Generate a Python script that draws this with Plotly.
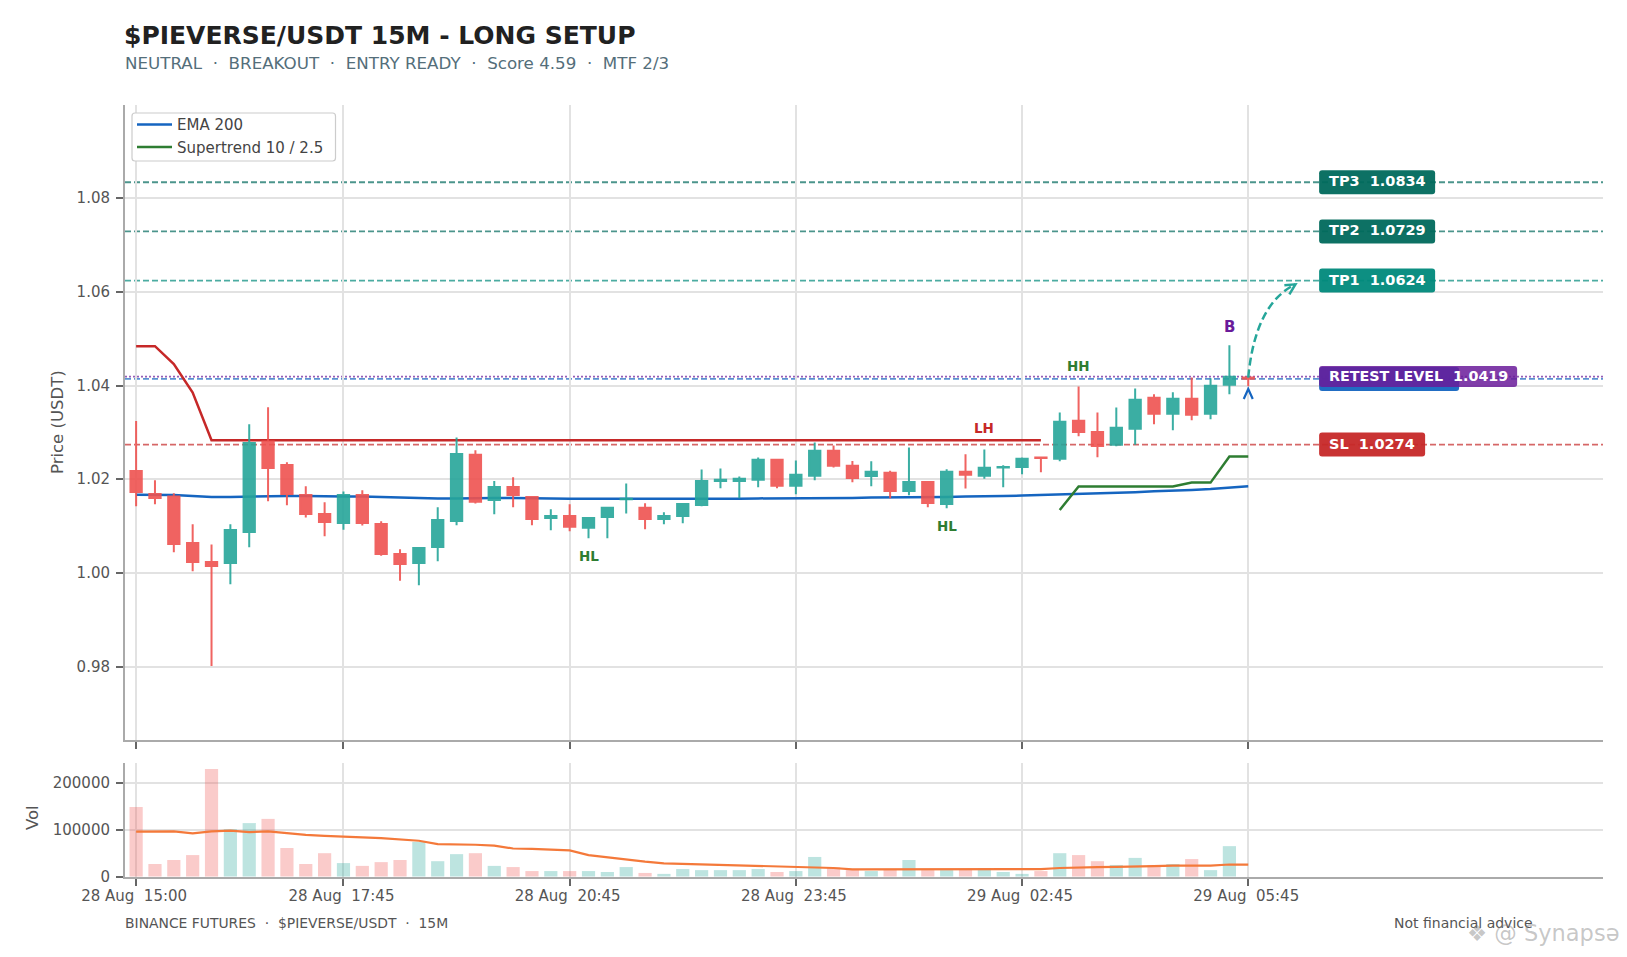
#!/usr/bin/env python

import plotly.graph_objects as go

W, H = 1627, 957
FONT = "DejaVu Sans"

# candles
opens = [1.02177, 1.01685, 1.01628, 1.00638, 1.00232, 1.00211, 1.00873, 1.02803, 1.02305, 1.01664,
         1.01258, 1.01066, 1.01664, 1.01044, 1.00403, 1.00211, 1.00553, 1.01108, 1.02522, 1.01558,
         1.01836, 1.01622, 1.01174, 1.01216, 1.00961, 1.01195, 1.0157, 1.01388, 1.01152, 1.01216,
         1.01451, 1.01964, 1.01964, 1.01986, 1.02414, 1.01858, 1.02071, 1.02605, 1.02285, 1.0207,
         1.02135, 1.0175, 1.01942, 1.01473, 1.02157, 1.02072, 1.02251, 1.02263, 1.02463, 1.02434,
         1.03246, 1.0301, 1.02733, 1.03075, 1.03737, 1.03396, 1.03716, 1.03396, 1.04015, 1.04172]
highs = [1.03245, 1.01977, 1.0170, 1.01037, 1.00603, 1.01037, 1.03174, 1.03537, 1.02362, 1.01849,
         1.01507, 1.01735, 1.01764, 1.01101, 1.00503, 1.00546, 1.014, 1.02889, 1.02619, 1.01964,
         1.02042, 1.01643, 1.01359, 1.01465, 1.01195, 1.01409, 1.0191, 1.01487, 1.01294, 1.01487,
         1.02208, 1.02229, 1.02057, 1.02464, 1.02428, 1.024, 1.02784, 1.02718, 1.02391, 1.02384,
         1.02178, 1.02676, 1.01964, 1.02214, 1.02534, 1.02634, 1.02299, 1.02463, 1.02463, 1.03424,
         1.03979, 1.03424, 1.03531, 1.03936, 1.03815, 1.03857, 1.04172, 1.04157, 1.04861, 1.04172]
lows = [1.01422, 1.01464, 1.00439, 1.00033, 0.9801, 0.99755, 1.00546, 1.01528, 1.01443, 1.0118,
        1.00781, 1.00923, 1.01009, 1.00368, 0.99833, 0.99734, 1.00246, 1.01016, 1.01482, 1.01252,
        1.014, 1.01017, 1.00909, 1.00889, 1.0074, 1.0074, 1.0127, 1.00932, 1.01038, 1.01059,
        1.01423, 1.01806, 1.01593, 1.01829, 1.01806, 1.01679, 1.01979, 1.02249, 1.01936, 1.0185,
        1.01593, 1.01658, 1.014, 1.01381, 1.018, 1.02007, 1.01829, 1.02107, 1.02149, 1.02384,
        1.02918, 1.0247, 1.02704, 1.02733, 1.03175, 1.03047, 1.0326, 1.03281, 1.03816, 1.03985]
closes = [1.01728, 1.0160, 1.00617, 1.00232, 1.00147, 1.00916, 1.02775, 1.02241, 1.01685, 1.01258,
          1.01087, 1.01664, 1.01066, 1.00403, 1.00189, 1.00531, 1.0113, 1.0254, 1.01518, 1.01836,
          1.01665, 1.01152, 1.01216, 1.00983, 1.01174, 1.01388, 1.0158, 1.01152, 1.01216, 1.01472,
          1.01964, 1.01986, 1.02007, 1.02414, 1.01858, 1.02093, 1.02606, 1.02285, 1.02028, 1.02157,
          1.0175, 1.01942, 1.01494, 1.02157, 1.02093, 1.02243, 1.02263, 1.02434, 1.0245, 1.03224,
          1.0301, 1.02711, 1.03096, 1.03695, 1.03396, 1.03716, 1.03374, 1.03994, 1.04186, 1.04143]
ema200 = [1.0167, 1.0167, 1.0166, 1.0164, 1.0162, 1.0162, 1.0163, 1.0163, 1.0164, 1.0164,
          1.0163, 1.0163, 1.0163, 1.0162, 1.016, 1.0159, 1.0159, 1.0159, 1.016, 1.016,
          1.016, 1.016, 1.0159, 1.0158, 1.0158, 1.0158, 1.0158, 1.0157, 1.0157, 1.0157,
          1.0158, 1.0158, 1.0158, 1.0159, 1.0159, 1.016, 1.016, 1.016, 1.016, 1.0161,
          1.0161, 1.0162, 1.0162, 1.0162, 1.0163, 1.0163, 1.0164, 1.0165, 1.0166, 1.0167,
          1.0169, 1.017, 1.0171, 1.0172, 1.0174, 1.0175, 1.0177, 1.0179, 1.0182, 1.0185]
st_down_x = [0, 1, 2, 3, 4, 48]
st_down = [1.0484, 1.0484, 1.04456, 1.0385, 1.02832, 1.02832]
st_up_x = [49, 50, 55, 56, 57, 58, 59]
st_up = [1.01343, 1.01842, 1.01842, 1.01927, 1.01927, 1.02482, 1.02482]

volumes = [148000, 27000, 35500, 46000, 229000, 101000, 114000, 123000, 61000, 27000,
           50000, 29000, 23000, 31000, 35500, 74000, 33000, 48000, 50000, 23000,
           20500, 12000, 12000, 12000, 12000, 10000, 20500, 8000, 6000, 16300,
           14000, 14000, 14000, 16300, 10000, 12000, 42000, 20000, 15500, 12000,
           15500, 35500, 14000, 14000, 15500, 18500, 10000, 6000, 12000, 50000,
           46000, 33000, 25000, 40000, 25000, 27000, 37500, 14000, 65000, 0]
vol_ma = [95700, 95700, 96500, 92000, 96500, 97800, 95000, 96500, 92000, 89000,
          87000, 86000, 83500, 82000, 80000, 76500, 69500, 69000, 68000, 66000,
          60000, 59000, 58000, 56000, 46000, 41000, 37000, 32000, 28500, 27500,
          25500, 25000, 24000, 23500, 22500, 20000, 20000, 18500, 15500, 15500,
          15500, 17000, 17000, 17000, 17000, 16300, 16300, 16300, 16300, 18500,
          20000, 20500, 21000, 22500, 22500, 23500, 23500, 23500, 26000, 25500]

tick_idx = [0, 11, 23, 35, 47, 59]
tick_text = ["28 Aug\u00a0\u00a015:00", "28 Aug\u00a0\u00a017:45", "28 Aug\u00a0\u00a020:45",
             "28 Aug\u00a0\u00a023:45", "29 Aug\u00a0\u00a002:45", "29 Aug\u00a0\u00a005:45"]

level_names = ["TP3", "TP2", "TP1", "ENTRY", "RETEST LEVEL", "SL"]
level_values = [1.0834, 1.0729, 1.0624, 1.0414, 1.0419, 1.0274]
level_colors = ["#00695c", "#00695c", "#00897b", "#1565c0", "#6a1b9a", "#c62828"]

swing_names = ["HL", "HL", "LH", "HH", "B"]
swing_x = [24, 43, 45, 50, 58]
swing_y = [1.0036, 1.0100, 1.0310, 1.0442, 1.0524]
swing_colors = ["#2e7d32", "#2e7d32", "#c62828", "#2e7d32", "#6a1b9a"]

x = list(range(len(opens)))
UP, DOWN = "#26a69a", "#ef5350"


def px(v):
    return v / W


def py(v):
    return 1 - v / H


def round_box(w, h, r=3):
    t, b = h / 2, -h / 2
    return (f"M {r},{b} L {w - r},{b} Q {w},{b} {w},{b + r} L {w},{t - r} Q {w},{t} {w - r},{t} "
            f"L {r},{t} Q 0,{t} 0,{t - r} L 0,{b + r} Q 0,{b} {r},{b} Z")


def page_note(text, xp, yp, size, color="#555555", xanchor="left", angle=0):
    fig.add_annotation(xref="paper", yref="paper", x=px(xp), y=py(yp), xanchor=xanchor, yanchor="middle",
                       showarrow=False, text=text, textangle=angle,
                       font=dict(family=FONT, size=size, color=color))


bar_colors = [UP if c >= o else DOWN for o, c in zip(opens, closes)]

fig = go.Figure()
fig.add_trace(go.Scatter(x=x, y=ema200, mode="lines", name="EMA 200",
                         line=dict(color="#1565c0", width=2.5)))
fig.add_trace(go.Scatter(x=st_down_x, y=st_down, mode="lines", showlegend=False,
                         line=dict(color="#c62828", width=2.5)))
fig.add_trace(go.Scatter(x=st_up_x, y=st_up, mode="lines", name="Supertrend 10 / 2.5",
                         line=dict(color="#2e7d32", width=2.5)))
fig.add_trace(go.Candlestick(x=x, open=opens, high=highs, low=lows, close=closes,
                             xaxis="x3", yaxis="y3", showlegend=False, whiskerwidth=0, opacity=0.9,
                             increasing=dict(line=dict(color=UP, width=2), fillcolor=UP),
                             decreasing=dict(line=dict(color=DOWN, width=2), fillcolor=DOWN)))
fig.add_trace(go.Bar(x=x, y=volumes, marker=dict(color=bar_colors, line_width=0), opacity=0.3,
                     width=0.7, xaxis="x2", yaxis="y2", showlegend=False))
fig.add_trace(go.Scatter(x=x, y=vol_ma, mode="lines", xaxis="x2", yaxis="y2", showlegend=False,
                         line=dict(color="#f4793a", width=2.2)))

# level lines and their tags
tag_x = 62.76
tag_sizes = {"TP3": (116, 24), "TP2": (116, 24), "TP1": (116, 24), "ENTRY": (140, 24),
             "RETEST LEVEL": (198, 21), "SL": (106, 24)}
for name, val, col in zip(level_names, level_values, level_colors):
    dash = "2px,2px" if name == "RETEST LEVEL" else "6px,3px"
    fig.add_shape(type="line", xref="x domain", yref="y", x0=0, x1=1, y0=val, y1=val, layer="below",
                  opacity=0.7, line=dict(color=col, width=1.8, dash=dash))
    w, h = tag_sizes[name]
    fig.add_shape(type="path", xref="x", yref="y", xsizemode="pixel", ysizemode="pixel",
                  xanchor=tag_x, yanchor=val, path=round_box(w, h), fillcolor=col,
                  opacity=0.85 if name == "RETEST LEVEL" else 0.95, line_width=0, layer="above")
    if name != "ENTRY":
        fig.add_annotation(x=tag_x, y=val, xanchor="left", yanchor="middle", xshift=8, yshift=1,
                           text=f"<b>{name}\u00a0\u00a0{val:.4f}</b>", showarrow=False,
                           font=dict(family=FONT, size=14.3 if name == "RETEST LEVEL" else 14.5,
                                     color="white"))

# breakout path, arrow head and entry caret
fig.add_shape(type="path", xref="x", yref="y", layer="above",
              path="M 59,1.0417 Q 59.36,1.0574 61.5,1.0616",
              line=dict(color=UP, width=2.5, dash="8px,4px"))
fig.add_shape(type="path", xref="x", yref="y", xsizemode="pixel", ysizemode="pixel", layer="above",
              xanchor=61.5, yanchor=1.0616, path="M -11,-1 L 0,0 L -6,-10",
              line=dict(color=UP, width=2.5))
fig.add_shape(type="path", xref="x", yref="y", xsizemode="pixel", ysizemode="pixel", layer="above",
              xanchor=59, yanchor=1.0382, path="M -4.5,-5 L 0,5 L 4.5,-5",
              line=dict(color="#1565c0", width=2.2))

for name, sx, sy, col in zip(swing_names, swing_x, swing_y, swing_colors):
    fig.add_annotation(x=sx, y=sy, text=f"<b>{name}</b>", showarrow=False,
                       font=dict(family=FONT, size=15 if name == "B" else 13.5, color=col))

page_note("NEUTRAL\u00a0\u00a0·\u00a0\u00a0BREAKOUT\u00a0\u00a0·\u00a0\u00a0ENTRY READY\u00a0\u00a0·"
          "\u00a0\u00a0Score 4.59\u00a0\u00a0·\u00a0\u00a0MTF 2/3", 122.5, 62.5, 16.7, "#546e7a")
page_note("Price (USDT)", 57, 422, 16.5, xanchor="center", angle=-90)
page_note("Vol", 32, 817, 16.5, xanchor="center", angle=-90)
page_note("BINANCE FUTURES\u00a0\u00a0·\u00a0\u00a0$PIEVERSE/USDT\u00a0\u00a0·\u00a0\u00a015M", 122.5, 923, 13.9)
page_note("Not financial advice", 1535, 923, 14, xanchor="right")
page_note("❖ @ Synapsə", 1621, 933, 22.5, "rgba(130,130,130,0.45)", xanchor="right")

# rounded legend frame, the legend itself sits on top of it
l, r, t, b, c = px(132), px(335.5), py(113), py(161), 3
cx, cy = c / W, c / H
fig.add_shape(type="path", xref="paper", yref="paper", layer="above", fillcolor="white",
              line=dict(color="#cccccc", width=1.2),
              path=f"M {l + cx},{b} L {r - cx},{b} Q {r},{b} {r},{b + cy} L {r},{t - cy} Q {r},{t} {r - cx},{t} "
                   f"L {l + cx},{t} Q {l},{t} {l},{t - cy} L {l},{b + cy} Q {l},{b} {l + cx},{b} Z")

axis_style = dict(showgrid=True, gridcolor="#e2e2e2", gridwidth=1.6, showline=True, linecolor="#aaaaaa",
                  linewidth=2, ticks="outside", ticklen=7, tickwidth=1.6, tickcolor="#666666",
                  zeroline=False, tickfont=dict(family=FONT, size=15, color="#555555"))
x_domain = [px(125), px(1603)]
x_range = [-0.59, 77.82]
price_range = [0.96438, 1.10]

fig.update_layout(
    width=W, height=H, margin=dict(l=0, r=0, t=0, b=0, autoexpand=False),
    paper_bgcolor="white", plot_bgcolor="white", barmode="overlay", boxgap=0.4, boxgroupgap=0,
    font=dict(family=FONT),
    title=dict(text="<b>$PIEVERSE/USDT 15M - LONG SETUP</b>", x=px(124), y=py(35), xanchor="left",
               yanchor="middle", xref="paper", yref="paper",
               font=dict(family=FONT, size=25, color="#212121")),
    legend=dict(x=px(132), y=py(108.3), xanchor="left", yanchor="top", bgcolor="rgba(0,0,0,0)",
                borderwidth=0, itemwidth=35, font=dict(family=FONT, size=15, color="#444444")),
    xaxis=dict(axis_style, domain=x_domain, range=x_range, anchor="y", tickvals=tick_idx,
               showticklabels=False, rangeslider_visible=False),
    yaxis=dict(axis_style, domain=[py(739.7), py(104.5)], range=price_range, anchor="x",
               tickvals=[0.98, 1.00, 1.02, 1.04, 1.06, 1.08], tickformat=".2f", ticklabelstandoff=3),
    xaxis2=dict(axis_style, domain=x_domain, range=x_range, anchor="y2", tickvals=tick_idx,
                ticktext=tick_text, tickangle=0, ticklabelstandoff=-3, ticklabelshift=-2),
    yaxis2=dict(axis_style, domain=[py(876.7), py(762.7)], range=[0, 242500], anchor="x2",
                tickvals=[0, 100000, 200000], tickformat="d", ticklabelstandoff=3),
    xaxis3=dict(overlaying="x", range=x_range, visible=False, rangeslider_visible=False, anchor="y3"),
    yaxis3=dict(overlaying="y", range=price_range, visible=False, anchor="x3"),
)

fig.write_html("out.html", config=dict(displayModeBar=False),
               post_script="document.body.style.margin='0';")
